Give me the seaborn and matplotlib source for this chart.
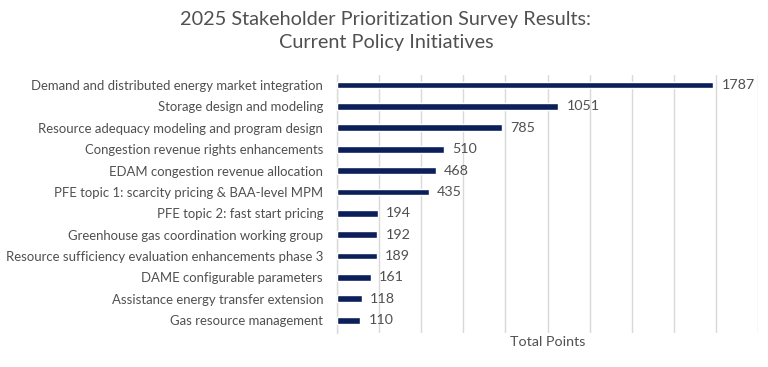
import matplotlib
matplotlib.use("Agg")
import matplotlib.pyplot as plt
import seaborn as sns
import pandas as pd

categories = [
    "Demand and distributed energy market integration",
    "Storage design and modeling",
    "Resource adequacy modeling and program design",
    "Congestion revenue rights enhancements",
    "EDAM congestion revenue allocation",
    "PFE topic 1: scarcity pricing & BAA-level MPM",
    "PFE topic 2: fast start pricing",
    "Greenhouse gas coordination working group",
    "Resource sufficiency evaluation enhancements phase 3",
    "DAME configurable parameters",
    "Assistance energy transfer extension",
    "Gas resource management",
]
points = [1787, 1051, 785, 510, 468, 435, 194, 192, 189, 161, 118, 110]
title = "2025 Stakeholder Prioritization Survey Results:\nCurrent Policy Initiatives"
x_label = "Total Points"

sns.set_theme(style="white")
plt.rcParams['font.family'] = ['Lato', 'DejaVu Sans']

TEXT = "#505050"
BAR = "#0b1f5b"
GRID = "#d9d9d9"

df = pd.DataFrame({"Initiative": categories, "Points": points})

fig = plt.figure(figsize=(7.68, 3.67), dpi=100)
ax = fig.add_axes([337/768, 1-333/367, (758-337)/768, (333-75)/367])

sns.barplot(data=df, x="Points", y="Initiative", orient="h", color=BAR,
            width=0.32, saturation=1, ax=ax, zorder=3)

ax.set_xlim(0, 2000)
ax.set_ylim(11.6, -0.47)
ax.set_xticks(range(0, 2001, 200))
ax.set_xticklabels([])
ax.tick_params(axis="x", length=0)
ax.tick_params(axis="y", length=0, labelsize=9.45, labelcolor=TEXT, pad=10)
ax.grid(axis="x", color=GRID, linewidth=1, zorder=0)
ax.grid(axis="y", visible=False)
for s in ["top", "right", "bottom"]:
    ax.spines[s].set_visible(False)
ax.spines["left"].set_color(GRID)
ax.spines["left"].set_linewidth(1)

ax.bar_label(ax.containers[0], labels=[str(v) for v in points], padding=6,
             fontsize=10.3, color=TEXT)

ax.set_ylabel("")
ax.set_xlabel(x_label, fontsize=10.3, color=TEXT, labelpad=-1)

fig.text(386/768, 1-31/367, title, ha="center", va="center", fontsize=14.3,
         color=TEXT, linespacing=1.45)

fig.savefig("out.png", dpi=100, facecolor="white")
